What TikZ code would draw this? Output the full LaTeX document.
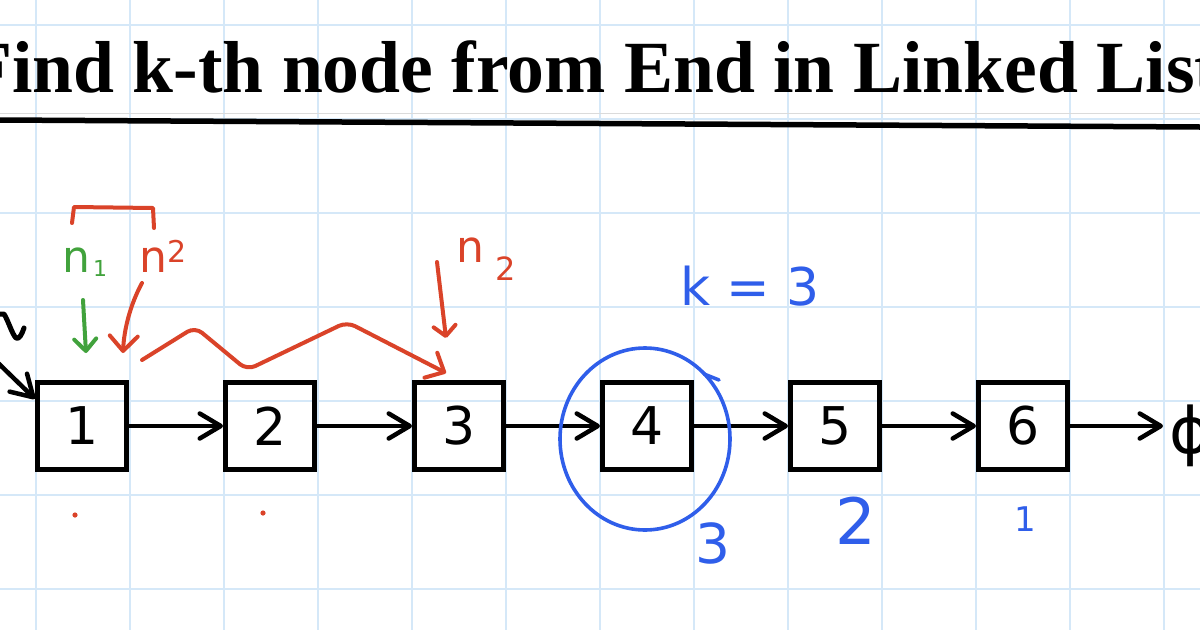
\documentclass[tikz,border=0pt]{standalone}
\usepackage{fontspec}
\usepackage{graphicx}
\usetikzlibrary{arrows.meta}
\newfontfamily\titlefont{Liberation Serif}
\newfontfamily\handfont{DejaVu Sans}
\definecolor{gridblue}{HTML}{D5E8F8}
\definecolor{inkred}{HTML}{DA4329}
\definecolor{inkblue}{HTML}{2F5EEA}
\definecolor{inkgreen}{HTML}{41A23C}
\newcommand{\handsz}[1]{\handfont\fontsize{#1}{#1}\selectfont}
\begin{document}
\begin{tikzpicture}[x=1pt,y=-1pt,
  listbox/.style={draw, line width=5pt, minimum width=89pt, minimum height=87pt, inner sep=0pt, font=\handsz{52}},
  link/.style={line width=4.5pt, line cap=round, -{Straight Barb[length=21pt,width=25pt,round]}},
  redpen/.style={inkred, line width=4pt, line cap=round, line join=round},
  redtip/.style={redpen, -{Straight Barb[length=15pt,width=28pt,round]}},
  smalltip/.style={redpen, -{Straight Barb[length=10pt,width=22pt,round]}},
  greentip/.style={inkgreen, line width=4pt, line cap=round, -{Straight Barb[length=12pt,width=22pt,round]}},
  gridline/.style={gridblue, line width=1.6pt}]
\useasboundingbox (0,0) rectangle (1200,630);
\clip (0,0) rectangle (1200,630);
\fill[white] (0,0) rectangle (1200,630);
% grid
\foreach \gx in {36,130,224,318,412,506,600,694,788,882,976,1070,1164}
  \draw[gridline] (\gx,0) -- (\gx,630);
\foreach \gy in {25,119,213,307,401,495,589}
  \draw[gridline] (0,\gy) -- (1200,\gy);
\draw[black!14, line width=1pt] (0,113) -- (1200,113);
% title
\node[anchor=base west, inner sep=0pt] (title) at (-33,92)
  {\resizebox{1252pt}{!}{\titlefont\bfseries\fontsize{73.5}{80}\selectfont Find k-th node from End in Linked List}};
\coordinate (ulA) at (0,120);
\coordinate (ulB) at (1200,127);
\draw[line width=5.5pt] (ulA) -- (ulB);
% boxes
\node[listbox] (b1) at (82,426) {1};
\node[listbox] (b2) at (270,426) {2};
\node[listbox] (b3) at (459,426) {3};
\node[listbox] (b4) at (647,426) {4};
\node[listbox] (b5) at (835,426) {5};
\node[listbox] (b6) at (1023,426) {6};
\node[anchor=west, inner sep=6pt, font=\handsz{64}] (phi) at (1163,436) {ϕ};
\draw[link] (b1) -- (b2);
\draw[link] (b2) -- (b3);
\draw[link] (b3) -- (b4);
\draw[link] (b4) -- (b5);
\draw[link] (b5) -- (b6);
\draw[link] (b6.east) -- (b6.east -| phi.west);
% head pointer from the left
\coordinate (headin) at (-4,361);
\draw[link] (headin) -- (b1.150);
\draw[line width=5pt, line cap=round, line join=round]
  (-2,314) -- (4,314) .. controls (8,320) and (12,334) .. (16,338)
  .. controls (19,340) and (22,334) .. (24,328);
% bracket and pointers
\draw[redpen] (72,223) -- (74,207) -- (153,208) -- (154,228);
\node[inkgreen, anchor=base west, inner sep=0pt, font=\handsz{44}] (n1) at (62,272)
  {n\hspace{3pt}\raisebox{-4pt}{\handsz{22}1}};
\node[inkred, anchor=base west, inner sep=0pt, font=\handsz{44}] (n2a) at (139,272)
  {n\raisebox{10pt}{\handsz{30}2}};
\coordinate (gS) at (83,300);
\coordinate (gE) at (86,353);
\draw[greentip] (gS) -- (gE);
\coordinate (rS) at (142,283);
\coordinate (rE) at (123,353);
\draw[redtip] (rS) .. controls (130,305) and (124,330) .. (rE);
\coordinate (zS) at (142,360);
\coordinate (zE) at (446,373);
\draw[redtip, rounded corners=9pt] (zS) -- (195,327) -- (247,370) -- (347,322) -- (zE);
\node[inkred, anchor=base west, inner sep=0pt, font=\handsz{44}] (n2b) at (456,262)
  {n\hspace{11pt}\raisebox{-18pt}{\handsz{32}2}};
\coordinate (r2S) at (437,262);
\coordinate (r2E) at (446,338);
\draw[smalltip] (r2S) -- (r2E);
\fill[inkred] (75,515) circle (2.6pt);
\fill[inkred] (263,513) circle (2.6pt);
% blue annotations
\node[inkblue, font=\handsz{52}] (k) at (750,286) {k = 3};
\draw[inkblue, line width=3.6pt] (645,439) ellipse [x radius=85pt, y radius=91pt];
\draw[inkblue, line width=3.6pt, line cap=round] (704,374) -- (719,380);
\node[inkblue, font=\handsz{55}] (c3) at (713,543) {3};
\node[inkblue, font=\handsz{64}] (c2) at (856,521) {2};
\node[inkblue, font=\handsz{34}] (c1) at (1025,519) {1};
\end{tikzpicture}
\end{document}
